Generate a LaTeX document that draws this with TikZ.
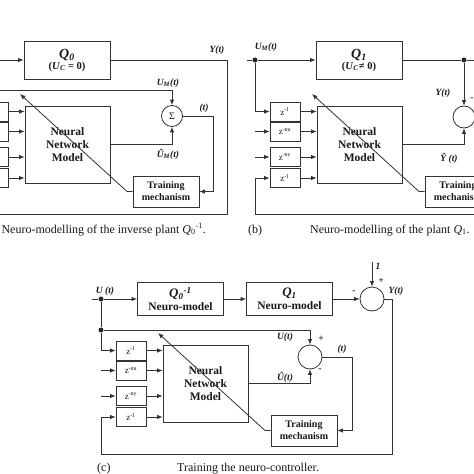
\documentclass[tikz,border=0pt]{standalone}
\usepackage{fontspec}
\setmainfont{Liberation Serif}
\usetikzlibrary{arrows.meta}
\newcommand\commonparts[4]{%
  \node[dbox] (d1) at (-7,111.5) {#1};
  \node[dbox] (d2) at (-7,131.5) {#2};
  \node[dbox] (d3) at (-7,157) {#3};
  \node[dbox] (d4) at (-7,178) {#4};
  \node[nnbox] (nn) at (67.5,144.5) {Neural\\Network\\Model};
  \node[tmbox] (tm) at (166,191.5) {Training\\mechanism};
  \foreach \i in {1,...,4} {\draw[arr] (d\i.east) -- (d\i.east -| nn.west);}
  \coordinate (i2) at (-37,131.5);
  \coordinate (i3) at (-37,157);
  \draw[arr] (i2) -- (d2.west);
  \draw[arr] (i3) -- (d3.west);
  \coordinate (dk) at (127,191.5);
  \coordinate (dt) at (20,94);
  \draw[arr] (tm.west) -- (dk) -- (dt);
}
\newcommand\zlabels{{z\textsuperscript{-1}}{z\textsuperscript{-nu}}{z\textsuperscript{-ny}}{z\textsuperscript{-1}}}
\begin{document}
\begin{tikzpicture}[x=1pt,y=-1pt,
  every node/.style={text=black!90},
  ln/.style={draw=black!80,line width=0.8pt},
  arr/.style={ln,-{Latex[length=5.5pt,width=4.5pt]}},
  bx/.style={draw=black!80,line width=0.8pt,inner sep=0pt,align=center},
  dbox/.style={bx,minimum width=30pt,minimum height=19pt,font=\fontsize{9}{10}\selectfont},
  nnbox/.style={bx,minimum width=85pt,minimum height=77pt,font=\fontsize{11.5}{13}\selectfont\bfseries},
  tmbox/.style={bx,minimum width=66pt,minimum height=31pt,font=\fontsize{10}{12}\selectfont\bfseries},
  qbox/.style={bx,minimum width=86pt,minimum height=38pt},
  nmbox/.style={bx,minimum width=86pt,minimum height=33pt},
  sumc/.style={circle,draw=black!80,line width=0.8pt,minimum size=21pt,inner sep=0pt},
  lbl/.style={font=\fontsize{9.5}{10}\selectfont\bfseries\itshape,inner sep=0pt},
  jdot/.style={circle,fill=black!85,minimum size=5pt,inner sep=0pt},
  captxt/.style={font=\fontsize{12}{14}\selectfont,inner sep=0pt}]
\useasboundingbox (0,0) rectangle (474,474);
\fill[white] (0,0) rectangle (474,474);
\clip (0,0) rectangle (474,474);

% ---------- panel (a)
\begin{scope}[name prefix=a-]
  \commonparts{}{}{}{}
  \node[qbox] (q) at (67,60) {{\fontsize{14}{15}\selectfont\bfseries\itshape Q\textsubscript{0}}\\[-1pt]{\fontsize{10.5}{12}\selectfont\bfseries(\textit{U}\textsubscript{\textit{C}} = 0)}};
  \node[sumc] (s) at (172,116) {\fontsize{10}{12}\selectfont Σ};
  \coordinate (in) at (-45,60);
  \draw[arr] (in) -- (q.west);
  \coordinate (yc) at (227,60);
  \coordinate (yb) at (227,214);
  \coordinate (fb) at (-37,214);
  \draw[ln] (q.east) -- (yc) -- (yb) -- (fb);
  \draw[arr] (fb) |- (d4.west);
  \coordinate (um) at (-37,90);
  \coordinate (umr) at (172,90);
  \draw[arr] (um) -- (umr) -- (s.north);
  \draw[arr] (um) |- (d1.west);
  \draw[arr] (nn.east) -| (s.south);
  \coordinate (er) at (213,116);
  \draw[arr] (s.east) -- (er) |- (tm.east);
  \node[lbl] (ly) at (217,50) {Y(t)};
  \node[lbl] (lum) at (168,83) {U\textsubscript{M}(t)};
  \node[lbl] (lt) at (204,108) {(t)};
  \node[lbl] (luh) at (168,154) {\^{U}\textsubscript{M}(t)};
\end{scope}

% ---------- panel (b)
\begin{scope}[shift={(292,0)},name prefix=b-]
  \expandafter\commonparts\zlabels
  \node[qbox] (q) at (67,60) {{\fontsize{14}{15}\selectfont\bfseries\itshape Q\textsubscript{1}}\\[-1pt]{\fontsize{10.5}{12}\selectfont\bfseries(\textit{U}\textsubscript{\textit{C}}≠ 0)}};
  \coordinate (in) at (-45,60);
  \node[jdot] (j1) at (-37,60) {};
  \draw[ln] (in) -- (j1);
  \draw[arr] (j1) -- (q.west);
  \draw[arr] (j1) |- (d1.west);
  \node[jdot] (j2) at (172,60) {};
  \coordinate (out) at (215,60);
  \draw[ln] (q.east) -- (j2) -- (out);
  \node[sumc,minimum size=22pt] (s) at (172,117) {};
  \draw[arr] (j2) -- (s.north);
  \draw[arr] (nn.east) -| (s.south);
  \coordinate (fbr) at (215,214);
  \coordinate (fb) at (-37,214);
  \draw[ln] (fbr) -- (fb);
  \draw[arr] (fb) |- (d4.west);
  \coordinate (er) at (213,117);
  \draw[arr] (s.east) -- (er) |- (tm.east);
  \node[lbl] (lum) at (-26,47) {U\textsubscript{M}(t)};
  \node[lbl] (ly) at (151,93) {Y(t)};
  \node[lbl] (lm) at (180,99) {-};
  \node[lbl] (lyh) at (157,158) {\^{Y} (t)};
\end{scope}

% ---------- panel (c)
\begin{scope}[shift={(138,239)},name prefix=c-]
  \expandafter\commonparts\zlabels
  \node[nmbox] (q0) at (42.5,60) {{\fontsize{13}{14}\selectfont\bfseries\itshape Q\textsubscript{0}\textsuperscript{-1}}\\[1.5pt]{\fontsize{11.5}{13}\selectfont\bfseries Neuro-model}};
  \node[nmbox] (q1) at (151.5,60) {{\fontsize{13}{14}\selectfont\bfseries\itshape Q\textsubscript{1}}\\[1.5pt]{\fontsize{11.5}{13}\selectfont\bfseries Neuro-model}};
  \node[sumc,minimum size=24pt] (s1) at (234,60) {};
  \node[sumc,minimum size=24pt] (s) at (172,118) {};
  \coordinate (in) at (-46,60);
  \node[jdot] (j1) at (-37,60) {};
  \node[jdot] (j2) at (-37,91) {};
  \draw[ln] (in) -- (j1);
  \draw[arr] (j1) -- (q0.west);
  \draw[arr] (q0) -- (q1);
  \draw[arr] (q1) -- (s1);
  \coordinate (one) at (234,23);
  \draw[arr] (one) -- (s1.north);
  \coordinate (yr) at (254,60);
  \coordinate (yb) at (254,215);
  \coordinate (fb) at (-37,215);
  \draw[ln] (s1.east) -- (yr) -- (yb) -- (fb);
  \draw[arr] (fb) |- (d4.west);
  \draw[ln] (j1) -- (j2);
  \draw[arr] (j2) |- (d1.west);
  \coordinate (ur) at (172,91);
  \draw[arr] (j2) -- (ur) -- (s.north);
  \draw[arr] (nn.east) -| (s.south);
  \coordinate (er) at (214,118);
  \draw[arr] (s.east) -- (er) |- (tm.east);
  \node[lbl] (lu) at (-33,52) {U (t)};
  \node[lbl] (lm1) at (216,53) {-};
  \node[lbl] (l1) at (240,27) {1};
  \node[lbl] (lp1) at (243,42) {+};
  \node[lbl] (ly) at (258,52) {Y(t)};
  \node[lbl] (lu2) at (147,98) {U(t)};
  \node[lbl] (lp2) at (183,100) {+};
  \node[lbl] (luh) at (147,138) {\^{U}(t)};
  \node[lbl] (lm2) at (182,131) {-};
  \node[lbl] (lt) at (204,110) {(t)};
\end{scope}

% ---------- captions
\node[captxt,anchor=base east] (capa) at (206,233) {Neuro-modelling of the inverse plant \textit{Q}\textsubscript{0}\textsuperscript{-1}.};
\node[captxt,anchor=base west] (capb) at (248,233) {(b)};
\node[captxt,anchor=base west] (capb2) at (310,233) {Neuro-modelling of the plant \textit{Q}\textsubscript{1}.};
\node[captxt,anchor=base west] (capc) at (97,471) {(c)};
\node[captxt,anchor=base west] (capc2) at (177,471) {Training the neuro-controller.};
\end{tikzpicture}
\end{document}
